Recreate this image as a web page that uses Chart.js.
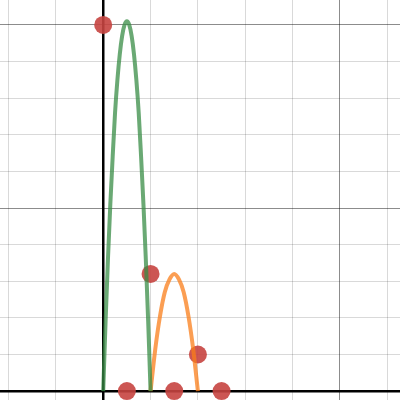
<!DOCTYPE html>
<html>
<head>
<script src="https://cdn.jsdelivr.net/npm/chart.js@4"></script>
<style>
html,body{margin:0;padding:0;background:#fff;overflow:hidden}
#outer{width:400px;height:400px;overflow:hidden;position:relative}
#wrap{width:419px;height:419px;position:absolute;left:-9.5px;top:-9.5px}
</style>
</head>
<body>
<div id="outer"><div id="wrap"><canvas id="c"></canvas></div></div>
<script>
// values
const greenX = [0, 0.05, 0.1, 0.15, 0.2, 0.25, 0.3, 0.35, 0.4, 0.45, 0.5, 0.55, 0.6, 0.65, 0.7, 0.75, 0.8, 0.85, 0.9, 0.95, 1];
const greenY = [0, 1.9, 3.6, 5.1, 6.4, 7.6, 8.5, 9.2, 9.7, 10.0, 10.1, 10.0, 9.7, 9.2, 8.5, 7.6, 6.4, 5.1, 3.6, 1.9, 0];
const orangeX = [1, 1.1, 1.2, 1.3, 1.4, 1.5, 1.6, 1.7, 1.8, 1.9, 2];
const orangeY = [0, 1.15, 2.05, 2.7, 3.05, 3.2, 3.05, 2.7, 2.05, 1.15, 0];
const dotX = [0, 0.5, 1, 1.5, 2, 2.5];
const dotY = [10, 0, 3.2, 0, 1, 0];

const pts = (xs, ys) => xs.map((x, i) => ({x: x, y: ys[i]}));

function gridColor(ctx) {
    const v = ctx.tick.value;
    if (v === 0) return '#000';
    if (v % 5 === 0) return 'rgba(0,0,0,0.45)';
    return 'rgba(0,0,0,0.15)';
}
function gridWidth(ctx) {
    return ctx.tick.value === 0 ? 2.5 : 1;
}
function intTicks(scale) {
    const t = [];
    for (let v = Math.ceil(scale.min); v <= Math.floor(scale.max); v++) t.push({value: v});
    scale.ticks = t;
}

new Chart(document.getElementById('c'), {
    type: 'scatter',
    data: {
        datasets: [
            {data: pts(greenX, greenY), showLine: true, borderColor: 'rgba(56,140,70,0.75)', borderWidth: 4, pointRadius: 0, cubicInterpolationMode: 'monotone'},
            {data: pts(orangeX, orangeY), showLine: true, borderColor: 'rgba(250,126,25,0.75)', borderWidth: 4, pointRadius: 0, cubicInterpolationMode: 'monotone'},
            {data: pts(dotX, dotY), pointRadius: 9, backgroundColor: 'rgba(199,68,64,0.9)', borderWidth: 0}
        ]
    },
    options: {
        responsive: true,
        maintainAspectRatio: false,
        animation: false,
        layout: {padding: 0},
        plugins: {legend: {display: false}, tooltip: {enabled: false}},
        scales: {
            x: {
                min: -2.18, max: 6.29,
                afterBuildTicks: intTicks,
                ticks: {display: false},
                border: {display: false},
                grid: {color: gridColor, lineWidth: gridWidth, drawTicks: false}
            },
            y: {
                min: -0.27, max: 10.68,
                afterBuildTicks: intTicks,
                ticks: {display: false},
                border: {display: false},
                grid: {color: gridColor, lineWidth: gridWidth, drawTicks: false}
            }
        }
    }
});
</script>
</body>
</html>
